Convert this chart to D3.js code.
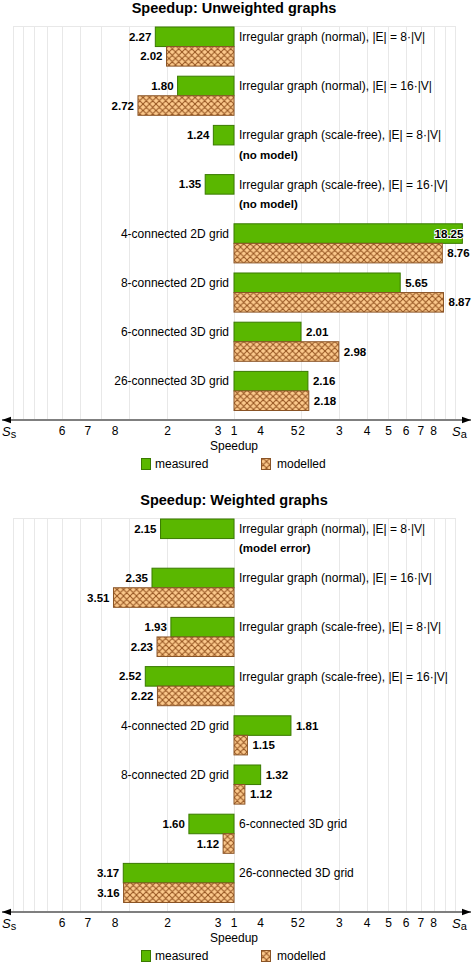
<!DOCTYPE html>
<html>
<head>
<meta charset="utf-8">
<script src="https://cdn.jsdelivr.net/npm/d3@7"></script>
<style>
body { margin: 0; background: #fff; }
svg { display: block; font-family: Arial, "Liberation Sans", sans-serif; }
</style>
</head>
<body>
<script>
/* global d3 */
var categories = [
  'Irregular graph (normal), |E| = 8\u00b7|V|',
  'Irregular graph (normal), |E| = 16\u00b7|V|',
  'Irregular graph (scale-free), |E| = 8\u00b7|V|',
  'Irregular graph (scale-free), |E| = 16\u00b7|V|',
  '4-connected 2D grid',
  '8-connected 2D grid',
  '6-connected 3D grid',
  '26-connected 3D grid'
];

// 's' = speedup drawn to the left (S_s), 'a' = to the right (S_a)
var unweightedMeasured = [2.27, 1.80, 1.24, 1.35, 18.25, 5.65, 2.01, 2.16];
var unweightedModelled = [2.02, 2.72, null, null, 8.76, 8.87, 2.98, 2.18];
var unweightedSide     = ['s', 's', 's', 's', 'a', 'a', 'a', 'a'];
var unweightedNote     = [null, null, '(no model)', '(no model)', null, null, null, null];

var weightedMeasured = [2.15, 2.35, 1.93, 2.52, 1.81, 1.32, 1.60, 3.17];
var weightedModelled = [null, 3.51, 2.23, 2.22, 1.15, 1.12, 1.12, 3.16];
var weightedSide     = ['s', 's', 's', 's', 'a', 'a', 's', 's'];
var weightedNote     = ['(model error)', null, null, null, null, null, null, null];

// tick labels as printed under the axis
var tickLabelsS = ['6', '7', '8', '2', '3'];
var tickValuesS = [6, 4.58, 3.45, 2, 1.18];
var tickLabelsA = ['1', '4', '5', '2', '3', '4', '5', '6', '7', '8'];
var tickValuesA = [1, 1.32, 1.87, 2.02, 3, 4, 5, 6, 7, 8];

var width  = 474;
var height = 964;
var green  = '#5ab700';
var maxShown = 10.8;

var xs = d3.scaleLog().domain([1, 10]).range([234, 13]);
var xa = d3.scaleLog().domain([1, 10]).range([234, 455]);

var svg = d3.select('body')
  .append('svg')
  .attr('width', width)
  .attr('height', height)
  .attr('viewBox', [0, 0, width, height].join(' '));

var defs = svg.append('defs');
var hatch = defs.append('pattern')
  .attr('id', 'hatch')
  .attr('patternUnits', 'userSpaceOnUse')
  .attr('width', 6.5)
  .attr('height', 6.5);
hatch.append('rect').attr('width', 6.5).attr('height', 6.5).attr('fill', '#fcc98c');
hatch.append('path')
  .attr('d', 'M0,0L6.5,6.5M6.5,0L0,6.5M-1,5.5L1,7.5M5.5,-1L7.5,1')
  .attr('stroke', '#93521f')
  .attr('stroke-width', 1);

['arrowL', 'arrowR'].forEach(function(id, k) {
  defs.append('marker')
    .attr('id', id)
    .attr('viewBox', '0 0 10 10')
    .attr('refX', k ? 10 : 0)
    .attr('refY', 5)
    .attr('markerWidth', 9)
    .attr('markerHeight', 9)
    .attr('markerUnits', 'userSpaceOnUse')
    .attr('orient', 'auto')
    .append('path')
    .attr('d', k ? 'M0,1.5L10,5L0,8.5Z' : 'M10,1.5L0,5L10,8.5Z')
    .attr('fill', '#000');
});

drawPanel(0, 'Speedup: Unweighted graphs', unweightedMeasured, unweightedModelled, unweightedSide, unweightedNote);
drawPanel(492, 'Speedup: Weighted graphs', weightedMeasured, weightedModelled, weightedSide, weightedNote);

function drawPanel(top, title, measured, modelled, side, note) {
  var g = svg.append('g').attr('transform', 'translate(0,' + top + ')');

  g.append('text')
    .attr('x', 234).attr('y', 8).attr('dy', '0.35em')
    .attr('text-anchor', 'middle')
    .style('font-size', '14.5px').style('font-weight', 'bold')
    .text(title);

  // grid
  var gridValues = d3.range(1, 11);
  var grid = g.append('g').attr('stroke', '#e8e8e8').attr('stroke-width', 1);
  gridValues.forEach(function(v) {
    [xs, xa].forEach(function(sc) {
      grid.append('line')
        .attr('x1', Math.round(sc(v)) + 0.5).attr('x2', Math.round(sc(v)) + 0.5)
        .attr('y1', 26).attr('y2', 419);
    });
  });
  grid.append('line').attr('x1', 13).attr('x2', 456).attr('y1', 26.5).attr('y2', 26.5);

  var y = d3.scaleBand().domain(d3.range(categories.length)).range([27, 410.5]).paddingInner(0.205);
  var h = y.bandwidth() / 2;

  categories.forEach(function(cat, i) {
    var sc = side[i] === 's' ? xs : xa;
    var left = side[i] === 's';
    var y0 = y(i);

    barAndLabel(g, sc, measured[i], y0, h, left, green, '#3a7a00');
    if (modelled[i] !== null) {
      barAndLabel(g, sc, modelled[i], y0 + h, h, left, 'url(#hatch)', '#8a5426');
    }

    g.append('text')
      .attr('x', left ? 239 : 229).attr('y', y0 + h / 2).attr('dy', '0.35em')
      .attr('text-anchor', left ? 'start' : 'end')
      .style('font-size', '12px')
      .text(cat);

    if (note[i]) {
      g.append('text')
        .attr('x', left ? 239 : 229).attr('y', y0 + h * 1.5).attr('dy', '0.35em')
        .attr('text-anchor', left ? 'start' : 'end')
        .style('font-size', '11.5px').style('font-weight', 'bold')
        .text(note[i]);
    }
  });

  // axis
  g.append('line')
    .attr('x1', 2).attr('x2', 471)
    .attr('y1', 420).attr('y2', 420)
    .attr('stroke', '#000').attr('stroke-width', 1.2)
    .attr('marker-start', 'url(#arrowL)')
    .attr('marker-end', 'url(#arrowR)');

  var ticks = g.append('g').style('font-size', '12px').attr('text-anchor', 'middle');
  tickLabelsS.forEach(function(t, i) {
    ticks.append('text').attr('x', xs(tickValuesS[i])).attr('y', 431).attr('dy', '0.35em').text(t);
  });
  tickLabelsA.forEach(function(t, i) {
    ticks.append('text').attr('x', xa(tickValuesA[i])).attr('y', 431).attr('dy', '0.35em').text(t);
  });

  var ss = g.append('text').attr('x', 2).attr('y', 431).attr('dy', '0.35em').style('font-size', '13px');
  ss.append('tspan').style('font-style', 'italic').text('S');
  ss.append('tspan').attr('dy', 2.5).style('font-size', '11px').text('s');
  var sa = g.append('text').attr('x', 452).attr('y', 431).attr('dy', '0.35em').style('font-size', '13px');
  sa.append('tspan').style('font-style', 'italic').text('S');
  sa.append('tspan').attr('dy', 2.5).style('font-size', '11px').text('a');

  g.append('text')
    .attr('x', 234).attr('y', 446).attr('dy', '0.35em')
    .attr('text-anchor', 'middle')
    .style('font-size', '12px')
    .text('Speedup');

  // legend
  var legend = g.append('g');
  legend.append('rect').attr('x', 141.5).attr('y', 458.5).attr('width', 9).attr('height', 11)
    .attr('fill', green).attr('stroke', '#3a7a00');
  legend.append('text').attr('x', 155).attr('y', 464).attr('dy', '0.35em').style('font-size', '12px').text('measured');
  legend.append('rect').attr('x', 261.5).attr('y', 458.5).attr('width', 9).attr('height', 11)
    .attr('fill', 'url(#hatch)').attr('stroke', '#8a5426');
  legend.append('text').attr('x', 277).attr('y', 464).attr('dy', '0.35em').style('font-size', '12px').text('modelled');
}

function barAndLabel(g, sc, v, y0, h, left, fill, stroke) {
  var xEnd = sc(Math.min(v, maxShown));
  var x0 = sc(1);
  g.append('rect')
    .attr('x', Math.min(x0, xEnd)).attr('y', y0)
    .attr('width', Math.abs(xEnd - x0)).attr('height', h)
    .attr('fill', fill).attr('stroke', stroke).attr('stroke-width', 1);

  var clipped = v > maxShown;
  g.append('text')
    .attr('x', clipped ? xEnd + 1 : (left ? xEnd - 4 : xEnd + 5))
    .attr('y', y0 + h / 2).attr('dy', '0.35em')
    .attr('text-anchor', clipped || left ? 'end' : 'start')
    .style('font-size', '11.5px').style('font-weight', 'bold')
    .attr('stroke', clipped ? '#fff' : 'none').attr('stroke-width', 2)
    .style('paint-order', 'stroke')
    .text(v.toFixed(2));
}
</script>
</body>
</html>
